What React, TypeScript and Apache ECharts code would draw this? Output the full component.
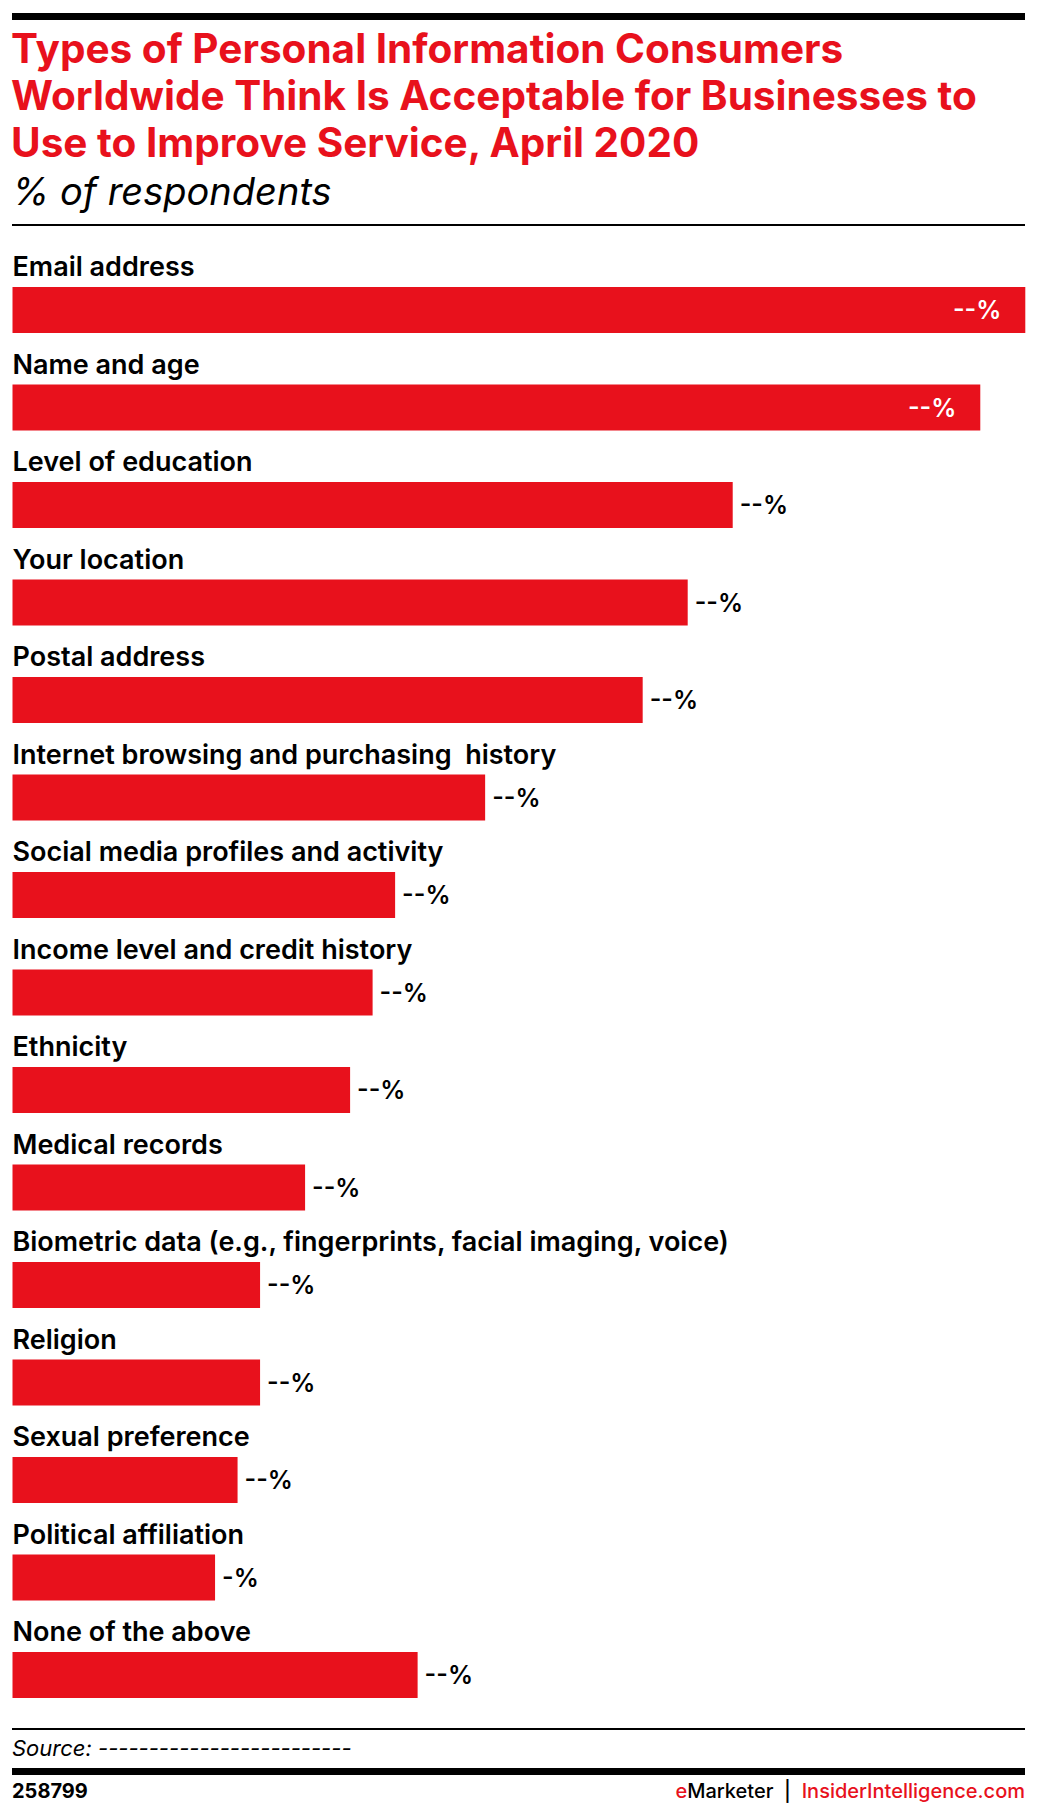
import React, { useEffect, useRef } from "react";
import * as echarts from "echarts";

const categories = [
  "Email address",
  "Name and age",
  "Level of education",
  "Your location",
  "Postal address",
  "Internet browsing and purchasing  history",
  "Social media profiles and activity",
  "Income level and credit history",
  "Ethnicity",
  "Medical records",
  "Biometric data (e.g., fingerprints, facial imaging, voice)",
  "Religion",
  "Sexual preference",
  "Political affiliation",
  "None of the above",
];

const values = [45, 43, 32, 30, 28, 21, 17, 16, 15, 13, 11, 11, 10, 9, 18];

const valueLabels = [
  "--%", "--%", "--%", "--%", "--%", "--%", "--%", "--%",
  "--%", "--%", "--%", "--%", "--%", "-%", "--%",
];

const insideCount = 2;

const titleLines = [
  "Types of Personal Information Consumers",
  "Worldwide Think Is Acceptable for Businesses to",
  "Use to Improve Service, April 2020",
];
const subtitle = "% of respondents";
const sourceText = "Source: -------------------------";
const chartId = "258799";

const RED = "#E8111C";
const FONT = "Inter";

export default function App() {
  const ref = useRef<HTMLDivElement>(null);
  useEffect(() => {
    if (!ref.current) return;
    const chart = echarts.init(ref.current, undefined, { renderer: "svg" });
    const gridLeft = 12.5;
    const gridRight = 12.7;
    const band = 97.5;
    const gridTop = 310 - band / 2;

    const graphics: any[] = [
      { type: "rect", shape: { x: 12, y: 13, width: 1013, height: 7 }, style: { fill: "#000" } },
      ...titleLines.map((t, i) => ({
        type: "text",
        x: 11,
        y: 48.5 + i * 47,
        style: {
          text: t,
          fill: RED,
          font: `700 40.5px ${FONT}`,
          verticalAlign: "middle",
          align: "left",
        },
      })),
      {
        type: "text",
        x: 12,
        y: 191,
        style: { text: subtitle, fill: "#000", font: `italic 400 38px ${FONT}`, verticalAlign: "middle" },
      },
      { type: "rect", shape: { x: 12, y: 224, width: 1013, height: 2 }, style: { fill: "#000" } },
      { type: "rect", shape: { x: 12, y: 1728, width: 1013, height: 2 }, style: { fill: "#000" } },
      {
        type: "text",
        x: 12,
        y: 1748,
        style: { text: sourceText, fill: "#000", font: `italic 400 22px ${FONT}`, verticalAlign: "middle" },
      },
      { type: "rect", shape: { x: 12, y: 1768, width: 1013, height: 7 }, style: { fill: "#000" } },
      {
        type: "text",
        x: 12,
        y: 1791,
        style: { text: chartId, fill: "#000", font: `700 20px ${FONT}`, verticalAlign: "middle" },
      },
      {
        type: "text",
        x: 1025,
        y: 1791,
        style: {
          text: "{r|e}{b|Marketer}{b|  |  }{r|InsiderIntelligence.com}",
          align: "right",
          verticalAlign: "middle",
          rich: {
            r: { fill: RED, font: `500 20px ${FONT}` },
            b: { fill: "#000", font: `500 20px ${FONT}` },
          },
        },
      },
    ];

    chart.setOption({
      animation: false,
      grid: { left: gridLeft, right: gridRight, top: gridTop, height: band * categories.length, containLabel: false },
      xAxis: { type: "value", min: 0, max: 45, show: false },
      yAxis: {
        type: "category",
        inverse: true,
        data: categories,
        axisLine: { show: false },
        axisTick: { show: false },
        splitLine: { show: false },
        axisLabel: {
          inside: true,
          margin: 0,
          align: "left",
          verticalAlign: "bottom",
          lineHeight: 27,
          padding: [0, 0, 30, 0],
          fontFamily: FONT,
          fontWeight: 600,
          fontSize: 27,
          color: "#000",
          interval: 0,
        },
        z: 10,
      },
      series: [
        {
          type: "bar",
          barWidth: 46,
          data: values.map((v, i) => ({
            value: v,
            label:
              i < insideCount
                ? { position: "insideRight", distance: 24, color: "#fff" }
                : { position: "right", distance: 7, color: "#000" },
          })),
          itemStyle: { color: RED },
          label: {
            show: true,
            fontFamily: FONT,
            fontWeight: 600,
            fontSize: 25,
            formatter: (p: any) => valueLabels[p.dataIndex],
          },
        },
      ],
      graphic: graphics,
    });
    return () => chart.dispose();
  }, []);
  return (
    <div
      ref={ref}
      style={{ position: "absolute", left: 0, top: 0, width: 1038, height: 1817, background: "#fff" }}
    />
  );
}
